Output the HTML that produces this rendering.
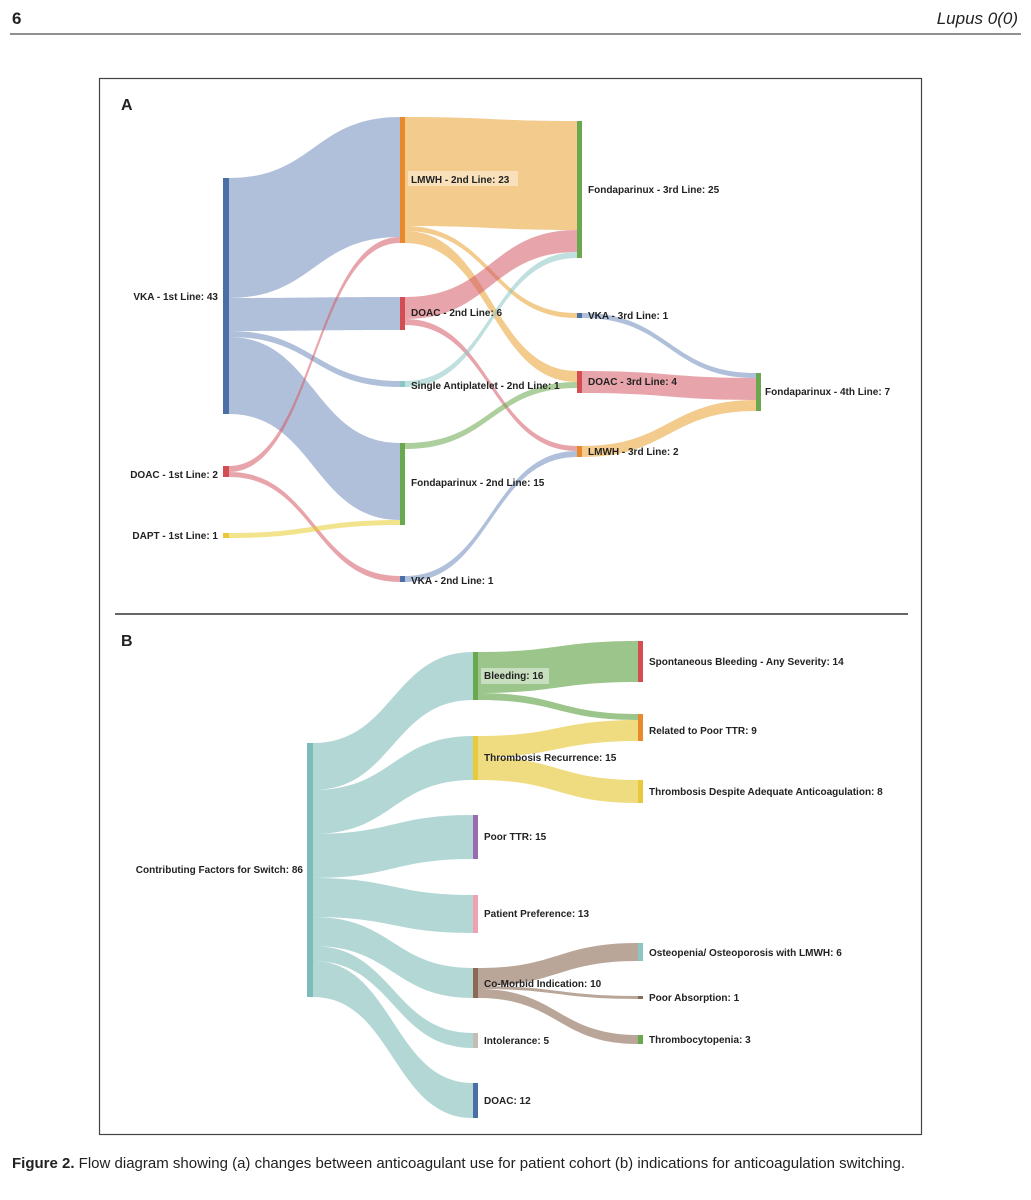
<!DOCTYPE html>
<html><head><meta charset="utf-8"><style>
body{margin:0;background:#fff;}
svg{display:block;}
text{font-family:"Liberation Sans",Arial,sans-serif;}
.l{font-size:10px;font-weight:bold;fill:#222;}
</style></head><body>
<svg width="1031" height="1200" viewBox="0 0 1031 1200" xmlns="http://www.w3.org/2000/svg">
<text x="12" y="24" font-size="17" font-weight="bold" fill="#222">6</text>
<text x="1018" y="24" font-size="17" font-style="italic" fill="#222" text-anchor="end">Lupus 0(0)</text>
<line x1="10" y1="34" x2="1021" y2="34" stroke="#222" stroke-width="1"/>
<rect x="99.5" y="78.5" width="822" height="1056" fill="none" stroke="#444" stroke-width="1.2"/>
<line x1="115" y1="614" x2="908" y2="614" stroke="#333" stroke-width="1.5"/>
<text x="121" y="110" font-size="16" font-weight="bold" fill="#222">A</text>
<text x="121" y="646" font-size="16" font-weight="bold" fill="#222">B</text>

<!-- Panel A links -->
<g fill-opacity="0.55">
<path fill="#6f8cbd" d="M229 178 C314 178 314 117 400 117 L400 237 C314 237 314 298 229 298Z"/>
<path fill="#6f8cbd" d="M229 298 C314 298 314 297 400 297 L400 330 C314 330 314 331 229 331Z"/>
<path fill="#6f8cbd" d="M229 331 C314 331 314 381 400 381 L400 387 C314 387 314 337 229 337Z"/>
<path fill="#6f8cbd" d="M229 337 C314 337 314 443 400 443 L400 520 C314 520 314 414 229 414Z"/>
<path fill="#e8a030" d="M405 117 C491 117 491 121 577 121 L577 230 C491 230 491 226 405 226Z"/>
<path fill="#d45a64" d="M229 466 C314 466 314 237 400 237 L400 243 C314 243 314 472 229 472Z"/>
<path fill="#d45a64" d="M229 472 C314 472 314 576 400 576 L400 582 C314 582 314 477 229 477Z"/>
<path fill="#e8cc30" d="M229 533 C314 533 314 520 400 520 L400 525 C314 525 314 538 229 538Z"/>
<path fill="#e8a030" d="M405 226 C491 226 491 313 577 313 L577 318 C491 318 491 231 405 231Z"/>
<path fill="#e8a030" d="M405 231 C491 231 491 371 577 371 L577 382 C491 382 491 243 405 243Z"/>
<path fill="#d45a64" d="M405 297 C491 297 491 230 577 230 L577 252 C491 252 491 319 405 319Z"/>
<path fill="#d45a64" d="M405 319 C491 319 491 446 577 446 L577 451 C491 451 491 325 405 325Z"/>
<path fill="#8cc6c4" d="M405 381 C491 381 491 252 577 252 L577 258 C491 258 491 387 405 387Z"/>
<path fill="#6aa84f" d="M405 443 C491 443 491 382 577 382 L577 388 C491 388 491 449 405 449Z"/>
<path fill="#6f8cbd" d="M405 576 C491 576 491 451 577 451 L577 457 C491 457 491 582 405 582Z"/>
<path fill="#6f8cbd" d="M582 313 C669 313 669 373 756 373 L756 378 C669 378 669 318 582 318Z"/>
<path fill="#d45a64" d="M582 371 C669 371 669 378 756 378 L756 400 C669 400 669 393 582 393Z"/>
<path fill="#e8a030" d="M582 446 C669 446 669 400 756 400 L756 411 C669 411 669 457 582 457Z"/>
</g>
<!-- Panel A nodes -->
<rect x="223" y="178" width="6" height="236" fill="#4a6fa5"/>
<rect x="223" y="466" width="6" height="11" fill="#d44d52"/>
<rect x="223" y="533" width="6" height="5" fill="#e8c93a"/>
<rect x="400" y="117" width="5" height="126" fill="#e8892b"/>
<rect x="400" y="297" width="5" height="33" fill="#d44d52"/>
<rect x="400" y="381" width="5" height="6" fill="#8cc6c4"/>
<rect x="400" y="443" width="5" height="82" fill="#6aa84f"/>
<rect x="400" y="576" width="5" height="6" fill="#4a6fa5"/>
<rect x="577" y="121" width="5" height="137" fill="#6aa84f"/>
<rect x="577" y="313" width="5" height="5" fill="#4a6fa5"/>
<rect x="577" y="371" width="5" height="22" fill="#d44d52"/>
<rect x="577" y="446" width="5" height="11" fill="#e8892b"/>
<rect x="756" y="373" width="5" height="38" fill="#6aa84f"/>
<!-- Panel A labels -->
<g class="l">
<text x="218" y="300" text-anchor="end">VKA - 1st Line: 43</text>
<text x="218" y="478" text-anchor="end">DOAC - 1st Line: 2</text>
<text x="218" y="539" text-anchor="end">DAPT - 1st Line: 1</text>
<rect x="408" y="171" width="110" height="15" fill="#fff" fill-opacity="0.4"/>
<text x="411" y="183">LMWH - 2nd Line: 23</text>
<text x="411" y="316">DOAC - 2nd Line: 6</text>
<text x="411" y="389">Single Antiplatelet - 2nd Line: 1</text>
<text x="411" y="486">Fondaparinux - 2nd Line: 15</text>
<text x="411" y="584">VKA - 2nd Line: 1</text>
<text x="588" y="193">Fondaparinux - 3rd Line: 25</text>
<text x="588" y="319">VKA - 3rd Line: 1</text>
<text x="588" y="385">DOAC - 3rd Line: 4</text>
<text x="588" y="455">LMWH - 3rd Line: 2</text>
<text x="765" y="395">Fondaparinux - 4th Line: 7</text>
</g>

<!-- Panel B links -->
<g fill-opacity="0.6">
<path fill="#7fbcb9" d="M313 743 C393 743 393 652 473 652 L473 700 C393 700 393 790 313 790Z"/>
<path fill="#7fbcb9" d="M313 790 C393 790 393 736 473 736 L473 780 C393 780 393 834 313 834Z"/>
<path fill="#7fbcb9" d="M313 834 C393 834 393 815 473 815 L473 859 C393 859 393 878 313 878Z"/>
<path fill="#7fbcb9" d="M313 878 C393 878 393 895 473 895 L473 933 C393 933 393 917 313 917Z"/>
<path fill="#7fbcb9" d="M313 917 C393 917 393 968 473 968 L473 998 C393 998 393 946 313 946Z"/>
<path fill="#7fbcb9" d="M313 946 C393 946 393 1033 473 1033 L473 1048 C393 1048 393 961 313 961Z"/>
<path fill="#7fbcb9" d="M313 961 C393 961 393 1083 473 1083 L473 1118 C393 1118 393 997 313 997Z"/>
<path fill="#5a9e3e" d="M478 652 C558 652 558 641 638 641 L638 682 C558 682 558 693 478 693Z"/>
<path fill="#5a9e3e" d="M478 693 C558 693 558 714 638 714 L638 720 C558 720 558 700 478 700Z"/>
<path fill="#e6c42c" d="M478 736 C558 736 558 720 638 720 L638 741 C558 741 558 757 478 757Z"/>
<path fill="#e6c42c" d="M478 757 C558 757 558 780 638 780 L638 803 C558 803 558 780 478 780Z"/>
<path fill="#8b6a55" d="M478 968 C558 968 558 943 638 943 L638 961 C558 961 558 986 478 986Z"/>
<path fill="#8b6a55" d="M478 986 C558 986 558 996 638 996 L638 999 C558 999 558 989 478 989Z"/>
<path fill="#8b6a55" d="M478 989 C558 989 558 1035 638 1035 L638 1044 C558 1044 558 998 478 998Z"/>
</g>
<!-- Panel B nodes -->
<rect x="307" y="743" width="6" height="254" fill="#7cbcb8"/>
<rect x="473" y="652" width="5" height="48" fill="#6aa84f"/>
<rect x="473" y="736" width="5" height="44" fill="#e8c93a"/>
<rect x="473" y="815" width="5" height="44" fill="#9b6bb0"/>
<rect x="473" y="895" width="5" height="38" fill="#f0a0b0"/>
<rect x="473" y="968" width="5" height="30" fill="#8b6a55"/>
<rect x="473" y="1033" width="5" height="15" fill="#c4bcb6"/>
<rect x="473" y="1083" width="5" height="35" fill="#4a6fa5"/>
<rect x="638" y="641" width="5" height="41" fill="#d44d52"/>
<rect x="638" y="714" width="5" height="27" fill="#e8892b"/>
<rect x="638" y="780" width="5" height="23" fill="#e8c93a"/>
<rect x="638" y="943" width="5" height="18" fill="#8cc6c4"/>
<rect x="638" y="996" width="5" height="3" fill="#8b6a55"/>
<rect x="638" y="1035" width="5" height="9" fill="#6aa84f"/>
<!-- Panel B labels -->
<g class="l">
<text x="303" y="873" text-anchor="end">Contributing Factors for Switch: 86</text>
<rect x="481" y="668" width="68" height="16" fill="#fff" fill-opacity="0.45"/>
<text x="484" y="679">Bleeding: 16</text>
<text x="484" y="761">Thrombosis Recurrence: 15</text>
<text x="484" y="840">Poor TTR: 15</text>
<text x="484" y="917">Patient Preference: 13</text>
<text x="484" y="987">Co-Morbid Indication: 10</text>
<text x="484" y="1044">Intolerance: 5</text>
<text x="484" y="1104">DOAC: 12</text>
<text x="649" y="665">Spontaneous Bleeding - Any Severity: 14</text>
<text x="649" y="734">Related to Poor TTR: 9</text>
<text x="649" y="795">Thrombosis Despite Adequate Anticoagulation: 8</text>
<text x="649" y="956">Osteopenia/ Osteoporosis with LMWH: 6</text>
<text x="649" y="1001">Poor Absorption: 1</text>
<text x="649" y="1043">Thrombocytopenia: 3</text>
</g>

<text x="12" y="1168" font-size="15" fill="#222"><tspan font-weight="bold">Figure 2.</tspan>  Flow diagram showing (a) changes between anticoagulant use for patient cohort (b) indications for anticoagulation switching.</text>
</svg>
</body></html>
